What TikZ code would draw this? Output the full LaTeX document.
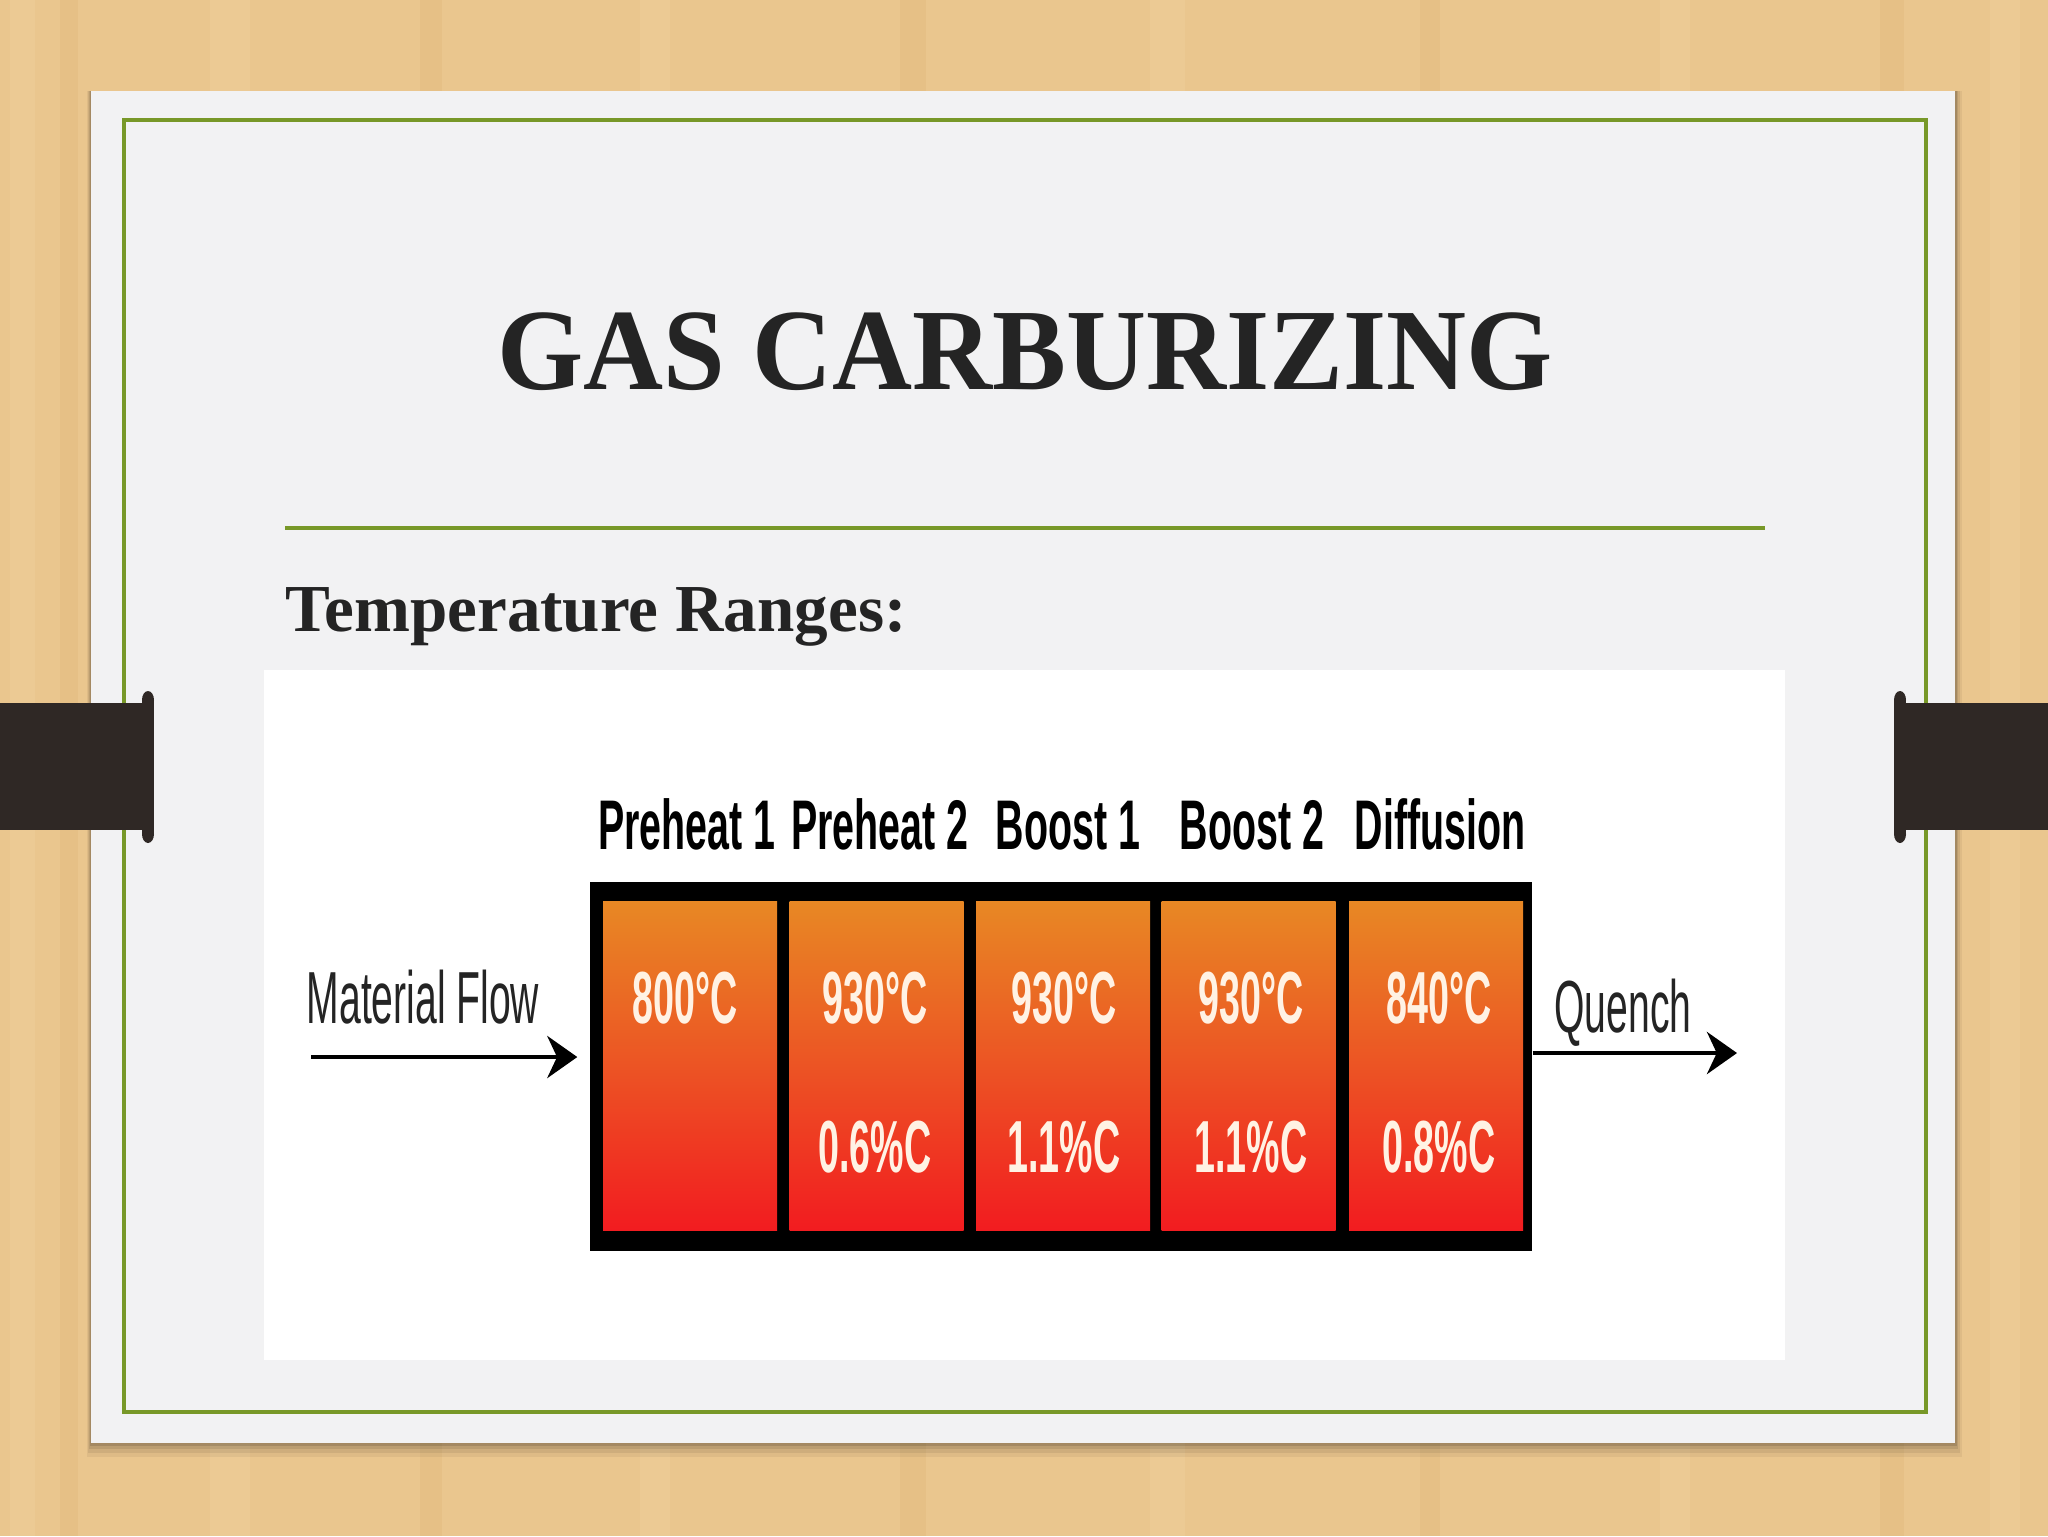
\documentclass[tikz,border=0pt]{standalone}
\usepackage{fontspec}
\usepackage{graphicx}
\setmainfont{Liberation Serif}
\newfontfamily\diagfont{Liberation Sans}
\usetikzlibrary{arrows.meta}
\definecolor{wood}{RGB}{234,198,142}
\definecolor{woodlight}{RGB}{242,214,162}
\definecolor{wooddark}{RGB}{222,180,118}
\definecolor{cardcol}{RGB}{242,242,243}
\definecolor{framecol}{RGB}{120,152,40}
\definecolor{clipcol}{RGB}{47,40,37}
\definecolor{ink}{RGB}{36,36,36}
\definecolor{hotA}{RGB}{232,136,36}
\definecolor{hotB}{RGB}{236,84,36}
\definecolor{hotC}{RGB}{242,28,32}
\definecolor{cream}{RGB}{255,242,228}
\newcommand\hx[1]{\scalebox{0.56}[1]{#1}}
\newcommand\vx[1]{\scalebox{0.51}[1]{#1}}
\newcommand\lx[1]{\scalebox{0.53}[1]{#1}}
\begin{document}
\begin{tikzpicture}[x=0.1mm,y=-0.1mm,
  titlestyle/.style={font=\bfseries\fontsize{33}{40}\selectfont, text=ink, anchor=base, inner sep=0},
  substyle/.style={font=\bfseries\fontsize{19.1}{23}\selectfont, text=ink, anchor=base west, inner sep=0},
  hdr/.style={font=\diagfont\bfseries\fontsize{20}{24}\selectfont, text=black, anchor=base, inner sep=0},
  val/.style={font=\diagfont\bfseries\fontsize{21}{25}\selectfont, text=cream, anchor=base, inner sep=0},
  lbl/.style={font=\diagfont\fontsize{21}{25}\selectfont, text=ink, anchor=base, inner sep=0},
  cell/.style={draw=none, minimum width=17.4mm, minimum height=32.9mm, inner sep=0,
     top color=hotA, bottom color=hotC, middle color=hotB},
  flow/.style={line width=1.4pt, -{Stealth[length=3mm,width=4.2mm]}}
]
\useasboundingbox (0,0) rectangle (2048,1536);
% wood background
\fill[wood] (0,0) rectangle (2048,1536);
\foreach \x/\w/\c in {10/25/woodlight,60/18/wooddark,210/40/woodlight,420/22/wooddark,640/30/woodlight,900/26/wooddark,1150/35/woodlight,1420/20/wooddark,1660/30/woodlight,1880/24/wooddark,1990/30/woodlight}
  \fill[\c,opacity=0.3] (\x,0) rectangle (\x+\w,1536);
% card shadow
\foreach \d/\o in {14/0.05,10/0.07,6/0.09,3/0.12}
  \fill[black,opacity=\o] (91-\d*0.3,91) rectangle (1955+\d*0.5,1443+\d);
% card
\fill[cardcol] (91,91) rectangle (1955,1443);
\draw[framecol,line width=0.9pt] (124,120) rectangle (1926,1412);
\draw[framecol,line width=0.9pt] (285,528) -- (1765,528);
% title and subtitle
\node[titlestyle] (title) at (1025,389) {\scalebox{0.955}[1]{GAS CARBURIZING}};
\node[substyle] (sub) at (285,631) {Temperature Ranges:};
% picture panel
\fill[white] (264,670) rectangle (1785,1360);
% clips
\fill[clipcol] (0,703) rectangle (153,830);
\fill[clipcol] (142,700) rectangle (154,834);
\fill[clipcol] (148,700) ellipse [x radius=6, y radius=9];
\fill[clipcol] (148,834) ellipse [x radius=6, y radius=9];
\fill[clipcol] (1895,703) rectangle (2048,830);
\fill[clipcol] (1894,700) rectangle (1906,834);
\fill[clipcol] (1900,700) ellipse [x radius=6, y radius=9];
\fill[clipcol] (1900,834) ellipse [x radius=6, y radius=9];
% furnace
\node[fill=black, minimum width=94.2mm, minimum height=36.9mm, inner sep=0] (box) at (1061,1066.5) {};
\node[cell] (c1) at (690,1065.5) {};
\node[cell] (c2) at (876.5,1065.5) {};
\node[cell] (c3) at (1063,1065.5) {};
\node[cell] (c4) at (1248.5,1065.5) {};
\node[cell] (c5) at (1436,1065.5) {};
% headers
\node[hdr] (h1) at (687,849) {\hx{Preheat 1}};
\node[hdr] (h2) at (880,849) {\hx{Preheat 2}};
\node[hdr] (h3) at (1068,849) {\hx{Boost 1}};
\node[hdr] (h4) at (1252,849) {\hx{Boost 2}};
\node[hdr] (h5) at (1440,849) {\hx{Diffusion}};
% values
\node[val] (t1) at (685,1023) {\vx{800°C}};
\node[val] (t2) at (875,1023) {\vx{930°C}};
\node[val] (t3) at (1064,1023) {\vx{930°C}};
\node[val] (t4) at (1251,1023) {\vx{930°C}};
\node[val] (t5) at (1439,1023) {\vx{840°C}};
\node[val] (p2) at (875,1172) {\vx{0.6\%C}};
\node[val] (p3) at (1064,1172) {\vx{1.1\%C}};
\node[val] (p4) at (1251,1172) {\vx{1.1\%C}};
\node[val] (p5) at (1439,1172) {\vx{0.8\%C}};
% flow labels and arrows
\node[lbl] (mf) at (423,1023) {\lx{Material Flow}};
\node[lbl] (qu) at (1623,1032) {\lx{Quench}};
\coordinate (in0) at (311,1057);
\coordinate (out1) at (1737,1053);
\draw[flow,shorten >=1.2mm] (in0) -- (in0 -| box.west);
\draw[flow] (out1 -| box.east) -- (out1);
\end{tikzpicture}
\end{document}
